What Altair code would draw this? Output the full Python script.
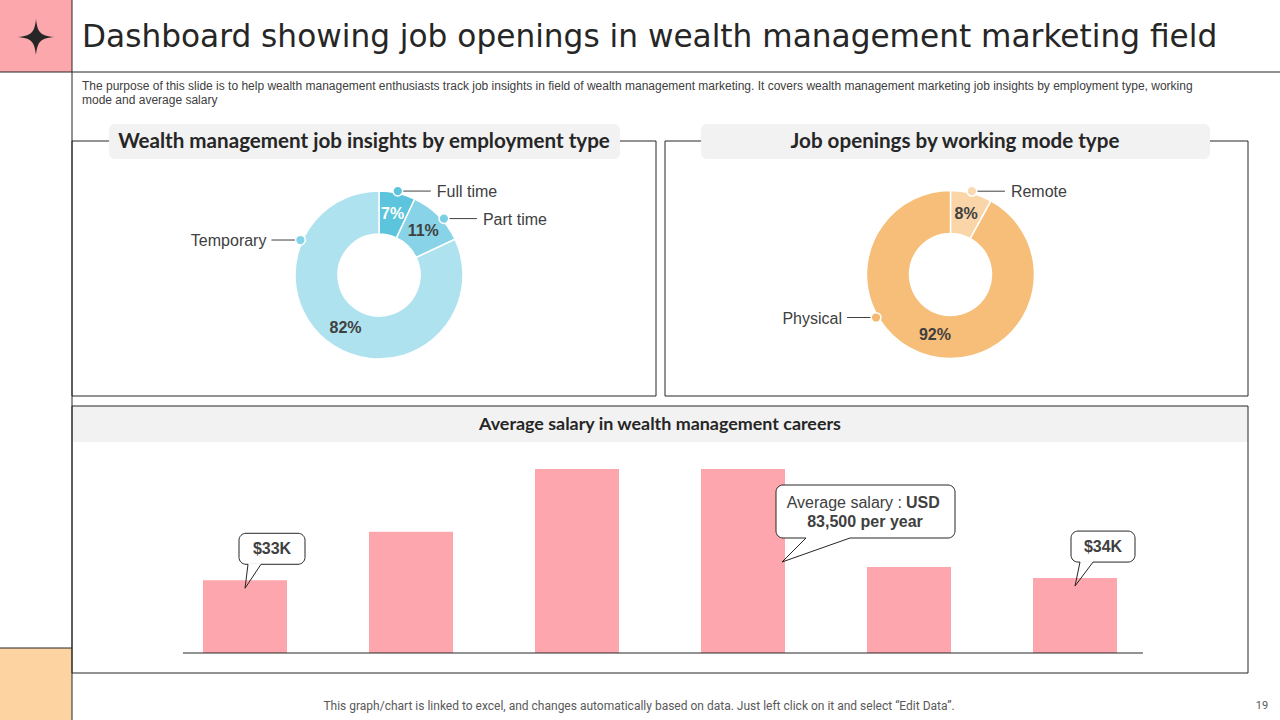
import math
import altair as alt
import pandas as pd

# ---------------- data ----------------
employment_types = ["Full time", "Part time", "Temporary"]
employment_share = [7, 11, 82]

working_modes = ["Remote", "Physical"]
working_share = [8, 92]

salary_roles = ["Role 1", "Role 2", "Role 3", "Role 4", "Role 5", "Role 6"]
salary_k = [33, 55, 83.5, 83.5, 39, 34]  # thousand USD per year

# ---------------- style ----------------
INK = "#262626"
TXT = "#404040"
ARIAL = "Liberation Sans"
HEAD = "Lato"
TITLE_FONT = "DejaVu Sans"
PINK = "#FBA7AC"
BAR = "#FDA6AD"
PEACH = "#FCD3A1"
BAND = "#F2F2F2"

slice_names = employment_types + working_modes
slice_colors = ["#5CC4DC", "#88D3E7", "#AEE2EF", "#F9D5A8", "#F6BE78"]
color_scale = alt.Scale(domain=slice_names, range=slice_colors)
dot_colors = {"Full time": "#5CC4DC", "Part time": "#7ACFE4", "Temporary": "#86D2E6",
              "Remote": "#FAD8B0", "Physical": "#F3B874"}

ONE = alt.Data(values=[{}])
layers = []


def rect(x, y, x2, y2, fill=None, stroke=None, sw=1, radius=0):
    kw = dict(fill=fill if fill else "transparent", strokeWidth=sw)
    if stroke:
        kw["stroke"] = stroke
    if radius:
        kw["cornerRadius"] = radius
    layers.append(alt.Chart(ONE).mark_rect(**kw).encode(
        x=alt.value(x), y=alt.value(y), x2=alt.value(x2), y2=alt.value(y2)))


def line(x, y, x2, y2, color=INK, sw=1):
    layers.append(alt.Chart(ONE).mark_rule(color=color, strokeWidth=sw).encode(
        x=alt.value(x), y=alt.value(y), x2=alt.value(x2), y2=alt.value(y2)))


def text(x, y, s, size=16, font=ARIAL, weight="normal", color=TXT, align="left", baseline="middle"):
    layers.append(alt.Chart(ONE).mark_text(
        text=s, fontSize=size, font=font, fontWeight=weight, color=color,
        align=align, baseline=baseline).encode(x=alt.value(x), y=alt.value(y)))


def dot(x, y, color):
    layers.append(alt.Chart(ONE).mark_point(
        filled=True, size=95, fill=color, stroke="white", strokeWidth=1.5, opacity=1).encode(
        x=alt.value(x), y=alt.value(y)))


# ---------------- frame ----------------
rect(0, 0, 72, 72, fill=PINK)
layers.append(alt.Chart(ONE).mark_point(
    shape="M0,-1 C0.08,-0.25 0.25,-0.08 1,0 C0.25,0.08 0.08,0.25 0,1 "
          "C-0.08,0.25 -0.25,0.08 -1,0 C-0.25,-0.08 -0.08,-0.25 0,-1 Z",
    size=1300, filled=True, fill=INK, opacity=1, strokeWidth=0).encode(
    x=alt.value(36), y=alt.value(37)))
rect(0, 648, 72, 720, fill=PEACH)
line(0, 648, 72, 648)
line(0, 72, 1280, 72)
line(72, 0, 72, 720)

text(82, 38, "Dashboard showing job openings in wealth management marketing field",
     size=31.2, font=TITLE_FONT, weight="normal", color=INK)
text(82, 86, "The purpose of this slide is to help wealth management enthusiasts track job insights in field of "
             "wealth management marketing. It covers wealth management marketing job insights by employment type, working",
     size=12, color=TXT)
text(82, 100, "mode and average salary", size=12, color=TXT)

# ---------------- panels ----------------
rect(72, 141, 656, 396, stroke=INK)
rect(109, 124, 620, 159, fill=BAND, radius=6)
text(364, 142, "Wealth management job insights by employment type", size=20.6, font=HEAD, weight="bold",
     color=INK, align="center")

rect(665, 141, 1248, 396, stroke=INK)
rect(701, 124, 1210, 159, fill=BAND, radius=6)
text(955, 142, "Job openings by working mode type", size=20.6, font=HEAD, weight="bold", color=INK,
     align="center")

rect(73, 406, 1248, 442, fill=BAND)
rect(72, 406, 1248, 673, stroke=INK)
text(660, 425, "Average salary in wealth management careers", size=17.9, font=HEAD, weight="bold", color=INK,
     align="center")

# ---------------- donuts ----------------
R_OUT, R_IN, R_LBL, R_DOT = 84, 41, 62.5, 86
# callout angle (degrees clockwise from 12 o'clock) for slices whose callout sits off the slice middle
CALLOUT_ANGLE = {"Part time": 49, "Temporary": 294, "Physical": 240}


def donut(names, shares, cx, cy, light_label):
    df = pd.DataFrame({"name": names, "share": shares, "k": list(range(len(names)))})
    base = alt.Chart(df).encode(
        theta=alt.Theta("share:Q", stack=True),
        order=alt.Order("k:Q"),
        x=alt.value(cx), y=alt.value(cy))
    arcs = base.mark_arc(outerRadius=R_OUT, innerRadius=R_IN, stroke="white", strokeWidth=1.5).encode(
        color=alt.Color("name:N", scale=color_scale, legend=None))
    pct = base.transform_calculate(pct="datum.share + '%'").mark_text(
        radius=R_LBL, fontSize=16, fontWeight="bold", font=ARIAL).encode(
        text="pct:N",
        color=alt.condition(alt.datum.name == light_label, alt.value("white"), alt.value(TXT)))
    layers.append(arcs)
    layers.append(pct)

    total = float(sum(shares))
    cum = 0.0
    for name, s in zip(names, shares):
        mid = (cum + s / 2) / total * 360
        cum += s
        ang = math.radians(CALLOUT_ANGLE.get(name, mid))
        px = cx + R_DOT * math.sin(ang)
        py = cy - R_DOT * math.cos(ang)
        if math.sin(ang) >= 0:
            line(px + 5, py, px + 33, py, color=TXT)
            text(px + 39, py + 1, name, align="left")
        else:
            line(px - 5, py, px - 29, py, color=TXT)
            text(px - 34, py + 1, name, align="right")
        dot(px, py, dot_colors[name])


donut(employment_types, employment_share, 379, 275, "Full time")
donut(working_modes, working_share, 950.5, 274.5, None)

# ---------------- salary bars ----------------
X_RANGE = [162, 1158]
PAD_IN, PAD_OUT = 0.494, 0.247
Y_BASE, Y_TOP = 653, 469
Y_MAX = max(salary_k)

sal = pd.DataFrame({"role": salary_roles, "salary": salary_k})
layers.append(alt.Chart(sal).mark_bar(color=BAR).encode(
    x=alt.X("role:N", sort=None, axis=None,
            scale=alt.Scale(range=X_RANGE, paddingInner=PAD_IN, paddingOuter=PAD_OUT)),
    y=alt.Y("salary:Q", axis=None,
            scale=alt.Scale(domain=[0, Y_MAX], range=[Y_BASE, Y_TOP], nice=False, zero=True))))
line(183, Y_BASE, 1143, Y_BASE, color=INK)

step = (X_RANGE[1] - X_RANGE[0]) / (len(salary_roles) - PAD_IN + 2 * PAD_OUT)


def bar_center(i):
    return X_RANGE[0] + step * (PAD_OUT + i) + step * (1 - PAD_IN) / 2


def bar_top(v):
    return Y_BASE - v / Y_MAX * (Y_BASE - Y_TOP)


def bubble(x0, y0, x1, y1, base_l, base_r, tip_x, tip_y):
    rect(x0, y0, x1, y1, fill="white", stroke=INK, radius=7)
    line(base_l, y1, base_r, y1, color="white", sw=2)
    line(base_l, y1, tip_x, tip_y, color=INK)
    line(base_r, y1, tip_x, tip_y, color=INK)


# small value callouts
for i in (0, 5):
    cx, top = bar_center(i), bar_top(salary_k[i])
    x0 = cx - 6 if i == 0 else cx - 4
    w = 66 if i == 0 else 64
    bubble(x0, top - 47, x0 + w, top - 16, x0 + 9, x0 + 22, cx, top + 8)
    text(x0 + w / 2, top - 31, f"${salary_k[i]:.0f}K", weight="bold", align="center")

# average salary callout
cx, top = bar_center(3), bar_top(salary_k[3])
bubble(cx + 33, top + 16, cx + 212, top + 69, cx + 63, cx + 107, cx + 39, top + 93)
text(cx + 159, top + 34, "Average salary :", align="right")
text(cx + 163, top + 34, "USD", weight="bold", align="left")
text(cx + 122, top + 53, f"{salary_k[3] * 1000:,.0f} per year", weight="bold", align="center")

# ---------------- footer ----------------
text(639, 706, "This graph/chart is linked to excel, and changes automatically based on data. "
               "Just left click on it and select \u201cEdit Data\u201d.", size=12, font="Roboto",
     color="#595959", align="center")
text(1262, 706, "19", size=11, font="Roboto", color="#595959", align="center")

chart = alt.layer(*layers).resolve_scale(theta="independent").properties(
    width=1280, height=720, padding=0, autosize=alt.AutoSizeParams(type="none"),
    background="white").configure_view(stroke=None)

chart.save("out.html", embed_options={"renderer": "svg", "actions": False})
